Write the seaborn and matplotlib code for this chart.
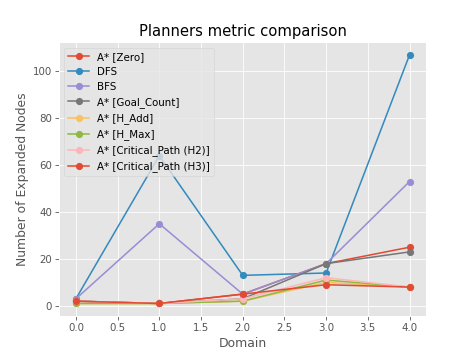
import pandas as pd
import seaborn as sns
import matplotlib.pyplot as plt

# values
domains = [0, 1, 2, 3, 4]
zero = [2, 1, 5, 18, 25]
dfs = [3, 64, 13, 14, 107]
bfs = [3, 35, 5, 18, 53]
goal_count = [2, 1, 3, 18, 23]
h_add = [1, 1, 2, 10, 8]
h_max = [1, 1, 2, 11, 8]
h2 = [2, 1, 3, 12, 8]
h3 = [2, 1, 5, 9, 8]

series = [
    ("A* [Zero]", zero),
    ("DFS", dfs),
    ("BFS", bfs),
    ("A* [Goal_Count]", goal_count),
    ("A* [H_Add]", h_add),
    ("A* [H_Max]", h_max),
    ("A* [Critical_Path (H2)]", h2),
    ("A* [Critical_Path (H3)]", h3),
]

plt.style.use('ggplot')
fig, ax = plt.subplots(figsize=(6.4, 4.8), dpi=74)

for name, vals in series:
    df = pd.DataFrame({'Domain': domains, 'Nodes': vals})
    sns.lineplot(data=df, x='Domain', y='Nodes', marker='o', markeredgewidth=0,
                 markersize=7, label=name, ax=ax)

ax.set_title('Planners metric comparison')
ax.set_xlabel('Domain')
ax.set_ylabel('Number of Expanded Nodes')
ax.legend(loc='upper left')

plt.savefig('out.png', dpi=74)
